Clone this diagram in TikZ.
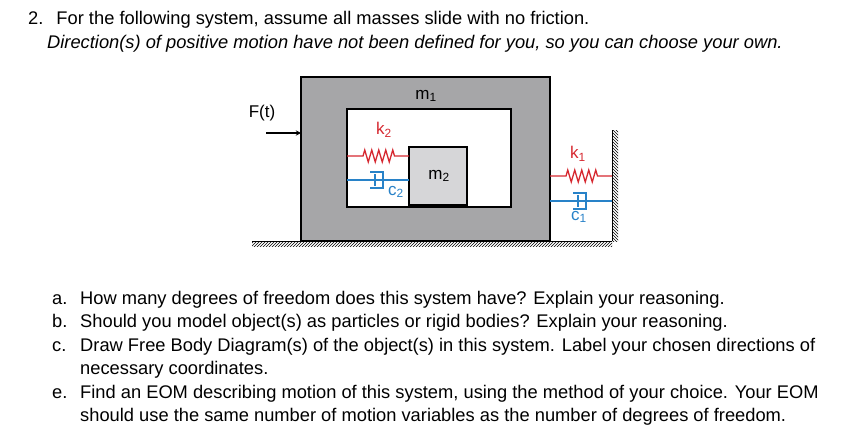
\documentclass[tikz,border=0pt]{standalone}
\usepackage{fontspec}
\setmainfont{Liberation Sans}
\usetikzlibrary{decorations.pathmorphing,patterns}
\definecolor{springred}{RGB}{214,40,48}
\definecolor{damperblue}{RGB}{40,130,200}
\definecolor{boxgray}{RGB}{166,166,168}
\definecolor{massgray}{RGB}{214,214,216}
\tikzset{
  txt/.style={anchor=base west,inner sep=0pt,font=\fontsize{18.3}{20}\selectfont},
  lbl/.style={inner sep=0pt,font=\fontsize{17}{19}\selectfont},
  spring/.style={springred,line width=1.3pt,decorate,decoration={zigzag,segment length=7pt,amplitude=6pt,pre length=16pt,post length=14pt}},
  damp/.style={damperblue,line width=1.3pt},
}
\newcommand{\itm}[1]{\makebox[28pt][l]{#1}}
\newcommand{\damper}[3]{% from x, to x, at y
  \draw[damp] (#1,#3) -- ({(#1+#2)/2+5},#3);
  \draw[damp] ({(#1+#2)/2-3},#3-6) -- ({(#1+#2)/2-3},#3+6);
  \draw[damp] ({(#1+#2)/2-8},#3-8) -- ({(#1+#2)/2+5},#3-8) -- ({(#1+#2)/2+5},#3+8) -- ({(#1+#2)/2-8},#3+8);
  \draw[damp] ({(#1+#2)/2-3},#3) -- (#2,#3);
}
\begin{document}
\begin{tikzpicture}[x=1pt,y=-1pt]
  \useasboundingbox (0,0) rectangle (862,447);
  % question text
  \node[txt] (q) at (28,24) {2.\hspace{13pt}For the following system, assume all masses slide with no friction.};
  \node[txt] (q2) at (47,48) {\itshape Direction(s) of positive motion have not been defined for you, so you can choose your own.};
  \node[txt] (a) at (52,304) {\itm{a.}How many degrees of freedom does this system have? Explain your reasoning.};
  \node[txt] (b) at (52,327) {\itm{b.}Should you model object(s) as particles or rigid bodies? Explain your reasoning.};
  \node[txt] (c) at (52,351) {\itm{c.}Draw Free Body Diagram(s) of the object(s) in this system. Label your chosen directions of};
  \node[txt] (c2) at (80,374) {necessary coordinates.};
  \node[txt] (e) at (52,398) {\itm{e.}Find an EOM describing motion of this system, using the method of your choice. Your EOM};
  \node[txt] (e2) at (80,421) {should use the same number of motion variables as the number of degrees of freedom.};
  % ground and wall
  \fill[pattern=north east lines] (252,241) rectangle (612,246);
  \draw[thick] (252,241) -- (612,241);
  \fill[pattern=north west lines] (612,130) rectangle (618,241);
  \draw[thick] (612,130) -- (612,241);
  % masses
  \draw[fill=boxgray,line width=1.5pt] (301,77) rectangle (550,241);
  \draw[fill=white,line width=1.5pt] (347,109) rectangle (511,207);
  \draw[fill=massgray,line width=1.5pt] (409,147) rectangle (467,205);
  \node[lbl] (m1) at (426,96) {m\textsubscript{1}};
  \node[lbl] (m2) at (439,176) {m\textsubscript{2}};
  % force
  \node[lbl] (F) at (262,113) {F(t)};
  \draw[line width=1.3pt,-stealth] (266,133) -- (301,133);
  % springs and dampers
  \draw[spring] (347,156) -- (409,156);
  \node[lbl,springred] (k2) at (384,130) {k\textsubscript{2}};
  \damper{347}{409}{180}
  \node[lbl,damperblue] (c2l) at (396,192) {c\textsubscript{2}};
  \draw[spring] (550,176) -- (612,176);
  \node[lbl,springred] (k1) at (578,154) {k\textsubscript{1}};
  \damper{550}{612}{201}
  \node[lbl,damperblue] (c1l) at (579,217) {c\textsubscript{1}};
\end{tikzpicture}
\end{document}
